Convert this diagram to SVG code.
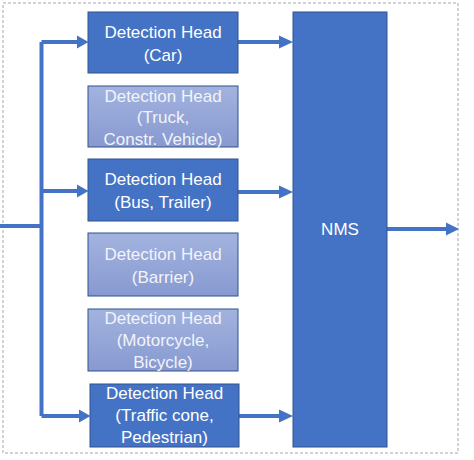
<svg xmlns="http://www.w3.org/2000/svg" width="474" height="460" viewBox="0 0 474 460">
<style>
.dark{fill:#4472C4;stroke:#2F528F;stroke-width:1}
.light{fill:url(#lg);stroke:#2F528F;stroke-width:1}
.t{font-family:"Liberation Sans",Arial,sans-serif;font-size:17px;fill:#ffffff;text-anchor:middle}
.lt{fill:#F2F4FA}
.c{stroke:#4472C4;stroke-width:4;fill:none}
.h{fill:#4472C4}
</style>
<defs>
<linearGradient id="lg" x1="0" y1="0" x2="0" y2="1">
<stop offset="0" stop-color="#A3B3DF"/>
<stop offset="1" stop-color="#8799D0"/>
</linearGradient>
</defs>
<rect x="3" y="3" width="455" height="450" fill="none" stroke="#A6A6A6" stroke-width="1" stroke-dasharray="3 2"/>
<g id="connectors">
<path class="c" d="M0 226 H41.5"/>
<path class="c" d="M41.5 42 V416"/>
<path class="c" d="M41.5 42 H78"/>
<polygon class="h" points="77,35.5 88.5,42 77,48.5"/>
<path class="c" d="M41.5 191 H78"/>
<polygon class="h" points="77,184.5 88.5,191 77,197.5"/>
<path class="c" d="M41.5 416 H80"/>
<polygon class="h" points="79,409.5 90.5,416 79,422.5"/>
<path class="c" d="M238 42 H280"/>
<polygon class="h" points="279,35.5 293,42 279,48.5"/>
<path class="c" d="M238 192 H280"/>
<polygon class="h" points="279,185.5 293,192 279,198.5"/>
<path class="c" d="M239 416 H280"/>
<polygon class="h" points="279,409.5 293,416 279,422.5"/>
<path class="c" d="M387 229 H447"/>
<polygon class="h" points="446,222.5 459,229 446,235.5"/>
</g>
<g id="head-car">
<rect class="dark" x="88" y="12" width="150" height="61"/>
<text class="t" x="163" y="38">Detection Head</text>
<text class="t" x="163" y="61">(Car)</text>
</g>
<g id="head-truck">
<rect class="light" x="88" y="86" width="150" height="61"/>
<text class="t lt" x="163" y="102">Detection Head</text>
<text class="t lt" x="163" y="123">(Truck,</text>
<text class="t lt" x="163" y="145">Constr. Vehicle)</text>
</g>
<g id="head-bus">
<rect class="dark" x="88" y="159" width="150" height="62"/>
<text class="t" x="163" y="185">Detection Head</text>
<text class="t" x="163" y="208">(Bus, Trailer)</text>
</g>
<g id="head-barrier">
<rect class="light" x="88" y="233" width="150" height="63"/>
<text class="t lt" x="163" y="260">Detection Head</text>
<text class="t lt" x="163" y="283">(Barrier)</text>
</g>
<g id="head-motorcycle">
<rect class="light" x="88" y="309" width="150" height="62"/>
<text class="t lt" x="163" y="324">Detection Head</text>
<text class="t lt" x="163" y="346">(Motorcycle,</text>
<text class="t lt" x="163" y="368">Bicycle)</text>
</g>
<g id="head-traffic">
<rect class="dark" x="90" y="384" width="149" height="63"/>
<text class="t" x="164.5" y="399">Detection Head</text>
<text class="t" x="164.5" y="421">(Traffic cone,</text>
<text class="t" x="164.5" y="443">Pedestrian)</text>
</g>
<g id="nms">
<rect class="dark" x="293" y="12" width="94" height="435"/>
<text class="t" x="340" y="235">NMS</text>
</g>
</svg>
